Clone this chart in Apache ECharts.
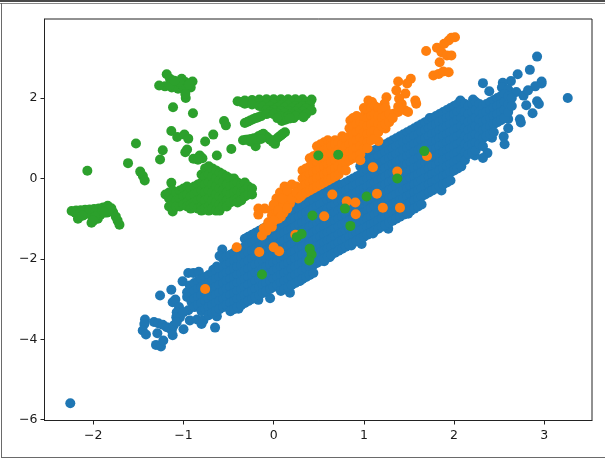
<!DOCTYPE html>
<html><head><meta charset="utf-8">
<style>html,body{margin:0;padding:0;background:#fff}#c{width:605px;height:458px}</style>
<script src="https://cdn.jsdelivr.net/npm/echarts@6/dist/echarts.min.js"></script>
</head><body><div id="c"></div>
<script>
const xTicks=[-2,-1,0,1,2,3];
const yTicks=[-6,-4,-2,0,2];
const blueEdge=[[-2.255,-5.59],[-1.26,-2.91],[-1.135,-2.77],[-1.01,-2.56],[-0.947,-2.35],[-0.89,-2.35],[-0.83,-2.32],
[-1.427,-3.51],[-1.434,-3.62],[-1.452,-3.78],[-1.416,-3.88],[-1.29,-3.85],[-1.305,-4.14],[-1.25,-4.18],[-1.224,-4.03],
[-1.327,-3.57],[-1.28,-3.6],[-1.23,-3.64],[-1.186,-3.7],[-1.13,-3.78],[-1.12,-3.9],[-1.0,-3.75],[-1.12,-3.08],[-1.09,-3.01],
[-1.05,-3.2],[-1.075,-3.33],[-1.08,-3.45],[-1.04,-3.46],[-1.11,-3.66],[-1.075,-3.57],[-0.93,-3.53],[-0.85,-3.51],[-0.78,-3.53],[-0.8,-3.62],
[-0.65,-3.71],[-0.63,-3.43],[-0.947,-3.28],[-1.0,-3.33],[-0.91,-3.08],[-0.96,-2.95],[-0.89,-2.91],[-0.93,-2.66],[-0.96,-2.83],[-0.82,-2.58],[-0.725,-2.54],
[-0.57,-1.77],[-0.6,-1.93],[-0.63,-2.19],[-0.67,-2.27],[-0.29,-1.475],[-0.39,-3.24],[-0.04,-2.98],[0.18,-2.84],[-0.17,-3.02],
[3.26,2.0],[2.92,3.03],[2.84,2.7],[2.705,2.59],[2.63,2.42],[2.97,2.41],[2.97,2.36],[2.9,2.29],[2.54,2.38],[2.53,2.26],[2.6,2.21],[2.32,2.37],[2.39,2.17],
[2.69,2.15],[2.77,2.06],[2.82,2.19],[2.92,1.92],[2.94,1.85],[2.8,1.82],[2.87,1.62],[2.73,1.47],[2.74,1.39],[2.6,1.48],[2.6,1.25],[2.55,1.04],[2.56,0.85],
[2.42,1.01],[2.37,0.63],[2.32,0.51],[2.23,0.57],[2.07,1.94],[2.21,1.96],[2.0,1.73],[1.92,1.57],[1.73,1.5],[1.55,1.11],[1.37,0.96],
[1.86,-0.3],[1.61,-0.6],[1.49,-0.88],[1.34,-0.92],[1.27,-1.25],[1.1,-1.37],[0.975,-1.63],[0.86,-1.67],[0.75,-1.75],[0.62,-1.96],[0.56,-2.06],[0.29,-2.55]];
const blueCore=[
[-0.88,[-2.6,-2.8,-3.0,-3.2]],
[-0.84,[-2.55,-2.75,-2.95,-3.15]],
[-0.80,[-2.5,-2.7,-2.9,-3.1,-3.3]],
[-0.76,[-2.45,-2.65,-2.85,-3.05,-3.25]],
[-0.72,[-2.4,-2.6,-2.8,-3.0,-3.2,-3.4]],
[-0.68,[-2.35,-2.55,-2.75,-2.95,-3.15,-3.35]],
[-0.64,[-2.3,-2.5,-2.7,-2.9,-3.1,-3.3]],
[-0.60,[-2.25,-2.45,-2.65,-2.85,-3.05,-3.25]],
[-0.56,[-2.0,-2.2,-2.4,-2.6,-2.8,-3.0,-3.2]],
[-0.52,[-1.95,-2.15,-2.35,-2.55,-2.75,-2.95,-3.15]],
[-0.48,[-1.9,-2.1,-2.3,-2.5,-2.7,-2.9,-3.1,-3.3]],
[-0.44,[-1.85,-2.05,-2.25,-2.45,-2.65,-2.85,-3.05,-3.25]],
[-0.40,[-1.8,-2.0,-2.2,-2.4,-2.6,-2.8,-3.0,-3.2]],
[-0.36,[-1.75,-1.95,-2.15,-2.35,-2.55,-2.75,-2.95,-3.15]],
[-0.32,[-1.5,-1.7,-1.9,-2.1,-2.3,-2.5,-2.7,-2.9,-3.1]],
[-0.28,[-1.45,-1.65,-1.85,-2.05,-2.25,-2.45,-2.65,-2.85,-3.05]],
[-0.24,[-1.4,-1.6,-1.8,-2.0,-2.2,-2.4,-2.6,-2.8,-3.0]],
[-0.20,[-1.35,-1.55,-1.75,-1.95,-2.15,-2.35,-2.55,-2.75,-2.95]],
[-0.16,[-1.3,-1.5,-1.7,-1.9,-2.1,-2.3,-2.5,-2.7,-2.9]],
[-0.12,[-1.25,-1.45,-1.65,-1.85,-2.05,-2.25,-2.45,-2.65,-2.85]],
[-0.08,[-1.2,-1.4,-1.6,-1.8,-2.0,-2.2,-2.4,-2.6,-2.8]],
[-0.04,[-1.15,-1.35,-1.55,-1.75,-1.95,-2.15,-2.35,-2.55,-2.75]],
[0.00,[-0.9,-1.1,-1.3,-1.5,-1.7,-1.9,-2.1,-2.3,-2.5,-2.7]],
[0.04,[-0.85,-1.05,-1.25,-1.45,-1.65,-1.85,-2.05,-2.25,-2.45,-2.65]],
[0.08,[-0.8,-1.0,-1.2,-1.4,-1.6,-1.8,-2.0,-2.2,-2.4,-2.6,-2.8]],
[0.12,[-0.75,-0.95,-1.15,-1.35,-1.55,-1.75,-1.95,-2.15,-2.35,-2.55,-2.75]],
[0.16,[-0.7,-0.9,-1.1,-1.3,-1.5,-1.7,-1.9,-2.1,-2.3,-2.5,-2.7]],
[0.20,[-0.65,-0.85,-1.05,-1.25,-1.45,-1.65,-1.85,-2.05,-2.25,-2.45,-2.65]],
[0.24,[-0.6,-0.8,-1.0,-1.2,-1.4,-1.6,-1.8,-2.0,-2.2,-2.4,-2.6]],
[0.28,[-0.55,-0.75,-0.95,-1.15,-1.35,-1.55,-1.75,-1.95,-2.15,-2.35,-2.55]],
[0.32,[-0.5,-0.7,-0.9,-1.1,-1.3,-1.5,-1.7,-1.9,-2.1,-2.3,-2.5]],
[0.36,[-0.45,-0.65,-0.85,-1.05,-1.25,-1.45,-1.65,-1.85,-2.05,-2.25,-2.45]],
[0.40,[-0.4,-0.6,-0.8,-1.0,-1.2,-1.4,-1.6,-1.8,-2.0,-2.2,-2.4]],
[0.44,[-0.35,-0.55,-0.75,-0.95,-1.15,-1.35,-1.55,-1.75,-1.95,-2.15,-2.35]],
[0.48,[-0.3,-0.5,-0.7,-0.9,-1.1,-1.3,-1.5,-1.7,-1.9,-2.1]],
[0.52,[-0.25,-0.45,-0.65,-0.85,-1.05,-1.25,-1.45,-1.65,-1.85,-2.05]],
[0.56,[-0.2,-0.4,-0.6,-0.8,-1.0,-1.2,-1.4,-1.6,-1.8,-2.0]],
[0.60,[-0.15,-0.35,-0.55,-0.75,-0.95,-1.15,-1.35,-1.55,-1.75,-1.95]],
[0.64,[-0.1,-0.3,-0.5,-0.7,-0.9,-1.1,-1.3,-1.5,-1.7,-1.9]],
[0.68,[-0.05,-0.25,-0.45,-0.65,-0.85,-1.05,-1.25,-1.45,-1.65,-1.85]],
[0.72,[-0.2,-0.4,-0.6,-0.8,-1.0,-1.2,-1.4,-1.6,-1.8]],
[0.76,[-0.15,-0.35,-0.55,-0.75,-0.95,-1.15,-1.35,-1.55,-1.75]],
[0.80,[-0.1,-0.3,-0.5,-0.7,-0.9,-1.1,-1.3,-1.5,-1.7]],
[0.84,[-0.05,-0.25,-0.45,-0.65,-0.85,-1.05,-1.25,-1.45,-1.65]],
[0.88,[0.0,-0.2,-0.4,-0.6,-0.8,-1.0,-1.2,-1.4,-1.6]],
[0.92,[0.05,-0.15,-0.35,-0.55,-0.75,-0.95,-1.15,-1.35,-1.55]],
[0.96,[0.3,0.1,-0.1,-0.3,-0.5,-0.7,-0.9,-1.1,-1.3,-1.5]],
[1.00,[0.35,0.15,-0.05,-0.25,-0.45,-0.65,-0.85,-1.05,-1.25,-1.45]],
[1.04,[0.6,0.4,0.2,0.0,-0.2,-0.4,-0.6,-0.8,-1.0,-1.2,-1.4]],
[1.08,[0.65,0.45,0.25,0.05,-0.15,-0.35,-0.55,-0.75,-0.95,-1.15,-1.35]],
[1.12,[0.7,0.5,0.3,0.1,-0.1,-0.3,-0.5,-0.7,-0.9,-1.1,-1.3]],
[1.16,[0.75,0.55,0.35,0.15,-0.05,-0.25,-0.45,-0.65,-0.85,-1.05,-1.25]],
[1.20,[0.8,0.6,0.4,0.2,0.0,-0.2,-0.4,-0.6,-0.8,-1.0,-1.2]],
[1.24,[0.85,0.65,0.45,0.25,0.05,-0.15,-0.35,-0.55,-0.75,-0.95,-1.15]],
[1.28,[0.9,0.7,0.5,0.3,0.1,-0.1,-0.3,-0.5,-0.7,-0.9,-1.1]],
[1.32,[0.95,0.75,0.55,0.35,0.15,-0.05,-0.25,-0.45,-0.65,-0.85,-1.05]],
[1.36,[1.0,0.8,0.6,0.4,0.2,0.0,-0.2,-0.4,-0.6,-0.8,-1.0]],
[1.40,[1.05,0.85,0.65,0.45,0.25,0.05,-0.15,-0.35,-0.55,-0.75,-0.95]],
[1.44,[1.1,0.9,0.7,0.5,0.3,0.1,-0.1,-0.3,-0.5,-0.7,-0.9]],
[1.48,[1.15,0.95,0.75,0.55,0.35,0.15,-0.05,-0.25,-0.45,-0.65,-0.85]],
[1.52,[1.2,1.0,0.8,0.6,0.4,0.2,0.0,-0.2,-0.4,-0.6,-0.8]],
[1.56,[1.25,1.05,0.85,0.65,0.45,0.25,0.05,-0.15,-0.35,-0.55,-0.75]],
[1.60,[1.3,1.1,0.9,0.7,0.5,0.3,0.1,-0.1,-0.3,-0.5,-0.7]],
[1.64,[1.35,1.15,0.95,0.75,0.55,0.35,0.15,-0.05,-0.25,-0.45,-0.65]],
[1.68,[1.4,1.2,1.0,0.8,0.6,0.4,0.2,0.0,-0.2,-0.4]],
[1.72,[1.45,1.25,1.05,0.85,0.65,0.45,0.25,0.05,-0.15,-0.35]],
[1.76,[1.5,1.3,1.1,0.9,0.7,0.5,0.3,0.1,-0.1,-0.3]],
[1.80,[1.55,1.35,1.15,0.95,0.75,0.55,0.35,0.15,-0.05,-0.25]],
[1.84,[1.6,1.4,1.2,1.0,0.8,0.6,0.4,0.2,0.0,-0.2]],
[1.88,[1.65,1.45,1.25,1.05,0.85,0.65,0.45,0.25,0.05,-0.15]],
[1.92,[1.7,1.5,1.3,1.1,0.9,0.7,0.5,0.3,0.1,-0.1]],
[1.96,[1.75,1.55,1.35,1.15,0.95,0.75,0.55,0.35,0.15,-0.05]],
[2.00,[1.8,1.6,1.4,1.2,1.0,0.8,0.6,0.4,0.2]],
[2.04,[1.85,1.65,1.45,1.25,1.05,0.85,0.65,0.45,0.25]],
[2.08,[1.9,1.7,1.5,1.3,1.1,0.9,0.7,0.5,0.3]],
[2.12,[1.85,1.65,1.45,1.25,1.05,0.85,0.65,0.45]],
[2.16,[1.8,1.6,1.4,1.2,1.0,0.8,0.6]],
[2.20,[1.85,1.65,1.45,1.25,1.05,0.85,0.65]],
[2.24,[1.9,1.7,1.5,1.3,1.1,0.9,0.7]],
[2.28,[1.85,1.65,1.45,1.25,1.05,0.85]],
[2.32,[1.8,1.6,1.4,1.2,1.0,0.8]],
[2.36,[1.85,1.65,1.45,1.25,1.05]],
[2.40,[1.9,1.7,1.5,1.3,1.1]],
[2.44,[1.95,1.75,1.55,1.35,1.15]],
[2.48,[2.0,1.8,1.6,1.4]],
[2.52,[2.05,1.85,1.65,1.45]],
[2.56,[2.1,1.9,1.7,1.5]],
[2.60,[2.05,1.85,1.65]],
[2.64,[2.0,1.8]]];
const orangeEdge=[[1.69,3.17],[1.81,3.25],[1.89,3.35],[1.94,3.43],[1.97,3.5],[2.01,3.51],[1.86,3.14],[1.92,3.06],[1.97,3.06],[1.84,2.89],
[1.77,2.56],[1.83,2.6],[1.88,2.66],[1.94,2.64],[1.52,2.48],[1.48,2.36],[1.38,2.41],[1.36,2.19],[1.46,2.11],[1.39,1.98],[1.57,1.94],[1.58,1.86],
[1.25,2.02],[1.23,1.86],[1.05,1.94],[1.09,1.9],[1.38,1.65],[1.46,1.69],[1.49,1.65],[1.33,1.61],[1.42,1.85],[1.38,1.78],[0.85,1.44],[1.16,0.93],[1.1,1.0],[1.24,1.24],
[-0.17,-0.75],[-0.10,-0.75],[-0.17,-0.9],[-0.02,-0.8],[-0.13,-1.42],[-0.11,-1.24],[-0.06,-1.09],[-0.02,-0.92],[0.03,-0.8],[0.07,-0.62],[0.03,-0.5],[0.07,-0.35],
[0.12,-0.2],[0.2,-0.15],[0.25,-0.2],[0.16,-0.42],[0.11,-0.67],[0.05,-1.0],[-0.02,-1.2],[0.22,-0.42],[0.29,-0.3],[0.18,-0.62],[0.11,-0.85],[0.27,-0.5],
[0.0,-0.65],[0.05,-0.8],[0.1,-0.5],[0.15,-0.3],[0.2,-0.5],[0.25,-0.35],[0.3,-0.45],[0.15,-0.75],[0.08,-0.95],[0,-1.05],[-0.08,-1.3],[-0.05,-1.2],
[1.10,0.28],[1.37,0.17],[1.70,0.56],[1.145,-0.38],[0.65,-0.40],[0.81,-0.57],[0.905,-0.6],[0.91,-0.89],[1.21,-0.73],[1.40,-0.73],[0.56,-0.94],
[-0.76,-2.75],[-0.41,-1.71],[-0.16,-1.83],[0,-1.71],[0.06,-1.81],[0.24,-1.40]];
const orangeCore=[
[0.32,[0.2,0.0,-0.2,-0.4]],
[0.36,[0.25,0.05,-0.15,-0.35]],
[0.40,[0.5,0.3,0.1,-0.1,-0.3]],
[0.44,[0.55,0.35,0.15,-0.05,-0.25]],
[0.48,[0.8,0.6,0.4,0.2,0.0,-0.2]],
[0.52,[0.85,0.65,0.45,0.25,0.05,-0.15]],
[0.56,[0.9,0.7,0.5,0.3,0.1,-0.1]],
[0.60,[0.95,0.75,0.55,0.35,0.15,-0.05]],
[0.64,[0.9,0.8,0.6,0.4,0.2,0.0]],
[0.68,[0.95,0.85,0.65,0.45,0.25,0.05]],
[0.72,[0.9,0.7,0.5,0.3,0.1]],
[0.76,[1.05,0.85,0.65,0.45,0.25]],
[0.80,[1.0,0.8,0.6,0.4,0.2]],
[0.84,[1.25,1.05,0.85,0.65,0.45]],
[0.88,[1.5,1.3,1.1,0.9,0.7,0.5]],
[0.92,[1.55,1.35,1.15,0.95,0.75,0.55]],
[0.96,[1.4,1.2,1.0,0.8,0.6,0.45]],
[1.00,[1.75,1.55,1.35,1.15,0.95,0.75]],
[1.04,[1.7,1.5,1.3,1.1,0.9,0.75]],
[1.08,[1.75,1.55,1.35,1.15,0.95]],
[1.12,[1.8,1.6,1.4,1.2,1.0]],
[1.16,[1.75,1.55,1.35,1.15]],
[1.20,[1.7,1.5,1.3]],
[1.24,[1.75,1.55,1.35]],
[1.28,[1.6,1.4]],
[1.32,[1.5]]];
const greenPoints=[[0.495,0.57],[0.715,0.59],[1.67,0.68],[1.37,0],[1.03,-0.45],[0.79,-0.75],[0.43,-0.92],[0.85,-1.18],[-0.13,-2.39],[0.255,-1.46],[0.31,-1.38],[0.40,-1.75],[0.42,-1.89],[0.395,-2.04],
[-1.186,2.59],[-1.15,2.48],[-1.095,2.36],[-1.02,2.48],[-0.98,2.40],[-0.9,2.41],[-0.92,2.26],[-0.98,2.19],[-1.06,2.23],[-1.13,2.26],[-1.205,2.29],[-1.27,2.31],[-0.975,2.0],[-1.04,2.36],[-1.13,2.38],[-0.95,2.32],
[-1.1,2.3],[-1.0,2.3],[-1.15,2.32],[-1.05,2.4],[-1.1,2.43],[-0.94,2.33],[-0.98,2.1],
[-1.116,1.77],[-0.895,1.62],[-0.55,1.43],[-0.53,1.32],[-1.135,1.18],[-1.07,1.03],[-0.99,1.09],[-0.947,0.99],[-0.67,1.09],[-0.76,0.92],[-0.47,0.73],[-0.63,0.57],[-1.527,0.87],[-1.23,0.70],[-1.26,0.47],[-1.615,0.38],[-2.066,0.19],
[-1.48,0.17],[-1.45,0.06],[-1.43,-0.05],[-1.135,-0.11],[-0.96,0.72],[-0.98,0.65],[-0.89,0.49],[-0.82,0.57],[-0.79,0.50],[-0.84,0.465],
[-2.24,-0.81],[-2.19,-0.8],[-2.14,-0.79],[-2.09,-0.78],[-2.04,-0.77],[-1.99,-0.76],[-1.94,-0.75],[-1.89,-0.72],[-1.84,-0.68],[-1.8,-0.74],[-1.78,-0.84],[-1.75,-0.95],[-1.73,-1.05],[-1.71,-1.15],
[-2.17,-0.9],[-2.17,-1.0],[-2.02,-0.9],[-2.02,-1.1],[-2.0,-1.0],[-1.95,-1.0],[-1.92,-0.9],[-2.1,-0.9],[-1.85,-0.85],
[-2.2,-0.85],[-2.14,-0.85],[-2.06,-0.85],[-1.98,-0.85],[-1.9,-0.82],[-1.82,-0.76],[-2.12,-0.93],[-1.98,-0.95],[-1.88,-0.85],[-2.0,-1.05],
[-0.40,1.92],[-0.32,1.94],[-0.24,1.95],[-0.16,1.96],[-0.08,1.97],[0,1.97],[0.08,1.97],[0.16,1.97],[0.24,1.97],[0.32,1.97],[0.42,1.96],
[-0.36,1.9],[-0.28,1.9],[-0.2,1.9],[-0.12,1.9],[-0.04,1.9],[0.04,1.9],[0.12,1.9],[0.2,1.9],[0.28,1.9],[0.36,1.9],
[-0.32,1.86],[-0.24,1.84],[-0.16,1.8],[-0.08,1.85],[0,1.85],[0.08,1.82],[0.16,1.82],[0.24,1.8],[0.32,1.8],[0.4,1.82],
[-0.12,1.78],[-0.04,1.78],[0.04,1.76],[0.12,1.76],[0.2,1.74],[0.28,1.74],[0.36,1.74],
[-0.08,1.7],[0,1.7],[0.08,1.68],[0.16,1.68],[0.24,1.66],[0.32,1.66],[0.42,1.69],
[-0.04,1.64],[0.04,1.62],[0.12,1.62],[0.2,1.6],[0.28,1.6],[0.36,1.6],[-0.23,1.47],[-0.17,1.52],[-0.29,1.41],[0.13,1.46],[0.22,1.5],
[-0.32,1.38],[-0.26,1.44],[-0.2,1.5],[-0.14,1.55],[-0.08,1.6],[0,1.6],[0.08,1.55],[0.16,1.55],[0.24,1.55],[0.33,1.52],[0.09,1.43],[0.18,1.49],[0.04,1.5],
[-0.34,0.95],[-0.28,0.97],[-0.22,1.0],[-0.17,1.05],[-0.115,1.11],[-0.08,1.04],[-0.04,0.96],[0.015,0.86],[0.03,0.98],[0.08,1.07],[0.125,1.15],[-0.2,0.9],[-0.2,0.8],[-0.26,0.92],[0.0,0.93],
[-0.31,0.96],[-0.25,0.98],[-0.14,1.08],[-0.06,1.0],[-0.01,0.91],[0.055,1.03],[0.1,1.11],[-0.2,0.98],[-0.14,0.98]];
const greenCore=[
[-1.20,[-0.4]],
[-1.16,[-0.35,-0.5,-0.7]],
[-1.12,[-0.3,-0.5,-0.67,-0.82]],
[-1.08,[-0.35,-0.55,-0.7]],
[-1.04,[-0.3,-0.5,-0.7]],
[-1.00,[-0.25,-0.45,-0.65]],
[-0.96,[-0.2,-0.4,-0.6,-0.7]],
[-0.92,[-0.25,-0.45,-0.65,-0.75]],
[-0.88,[-0.2,-0.4,-0.6,-0.7]],
[-0.84,[-0.15,-0.35,-0.55,-0.75]],
[-0.80,[0.1,-0.1,-0.3,-0.5,-0.7,-0.8]],
[-0.76,[0.25,0.05,-0.15,-0.35,-0.55,-0.75]],
[-0.72,[0.3,0.1,-0.1,-0.3,-0.5,-0.7,-0.8]],
[-0.68,[0.25,0.05,-0.15,-0.35,-0.55,-0.75]],
[-0.64,[0.2,0.0,-0.2,-0.4,-0.6,-0.8]],
[-0.60,[0.15,-0.05,-0.25,-0.45,-0.65,-0.8]],
[-0.56,[0.1,-0.1,-0.3,-0.5,-0.7]],
[-0.52,[0.05,-0.15,-0.35,-0.55,-0.7]],
[-0.48,[0.0,-0.2,-0.4,-0.6]],
[-0.44,[0.0,-0.15,-0.35,-0.55]],
[-0.40,[-0.1,-0.3,-0.5,-0.6]],
[-0.36,[-0.15,-0.35,-0.55]],
[-0.32,[-0.1,-0.3,-0.45]],
[-0.28,[-0.2,-0.4]],
[-0.24,[-0.25,-0.4]]];
const expand=c=>c.flatMap(([x,ys])=>ys.map(y=>[x,y]));
const minus=v=>String(v).replace('-','\u2212');
const font={color:'#1a1a1a',fontFamily:'DejaVu Sans',fontSize:12.5};
const scatter=(data,color)=>({type:'scatter',data,symbol:'circle',symbolSize:10,itemStyle:{color,opacity:1},silent:true,animation:false});
const chart=echarts.init(document.getElementById('c'),null,{renderer:'canvas'});
chart.setOption({
 animation:false,backgroundColor:'#fff',
 grid:{left:44.5,top:19,width:547.5,height:401.5,show:true,borderColor:'#222',borderWidth:1,backgroundColor:'#fff'},
 xAxis:{type:'value',min:-2.541,max:3.529,splitLine:{show:false},
  axisLine:{show:true,onZero:false,lineStyle:{color:'#222'}},
  axisTick:{show:true,length:4,customValues:xTicks,lineStyle:{color:'#222'}},
  axisLabel:{...font,margin:8.5,customValues:xTicks,formatter:minus}},
 yAxis:{type:'value',min:-6.02,max:3.965,splitLine:{show:false},
  axisLine:{show:true,onZero:false,lineStyle:{color:'#222'}},
  axisTick:{show:true,length:4,customValues:yTicks,lineStyle:{color:'#222'}},
  axisLabel:{...font,margin:7,customValues:yTicks,formatter:minus}},
 graphic:[
  {type:'rect',silent:true,shape:{x:0,y:0,width:605,height:2},style:{fill:'#4a4a4a'}},
  {type:'rect',silent:true,shape:{x:0,y:3,width:605,height:1},style:{fill:'#8a8a8a'}},
  {type:'rect',silent:true,shape:{x:1,y:3,width:1,height:455},style:{fill:'#6a6a6a'}},
  {type:'rect',silent:true,shape:{x:1,y:457,width:604,height:1},style:{fill:'#6a6a6a'}}
 ],
 series:[
  scatter(blueEdge.concat(expand(blueCore)),'#1f77b4'),
  scatter(orangeEdge.concat(expand(orangeCore)),'#ff7f0e'),
  scatter(greenPoints.concat(expand(greenCore)),'#2ca02c')
 ]
});
</script></body></html>
